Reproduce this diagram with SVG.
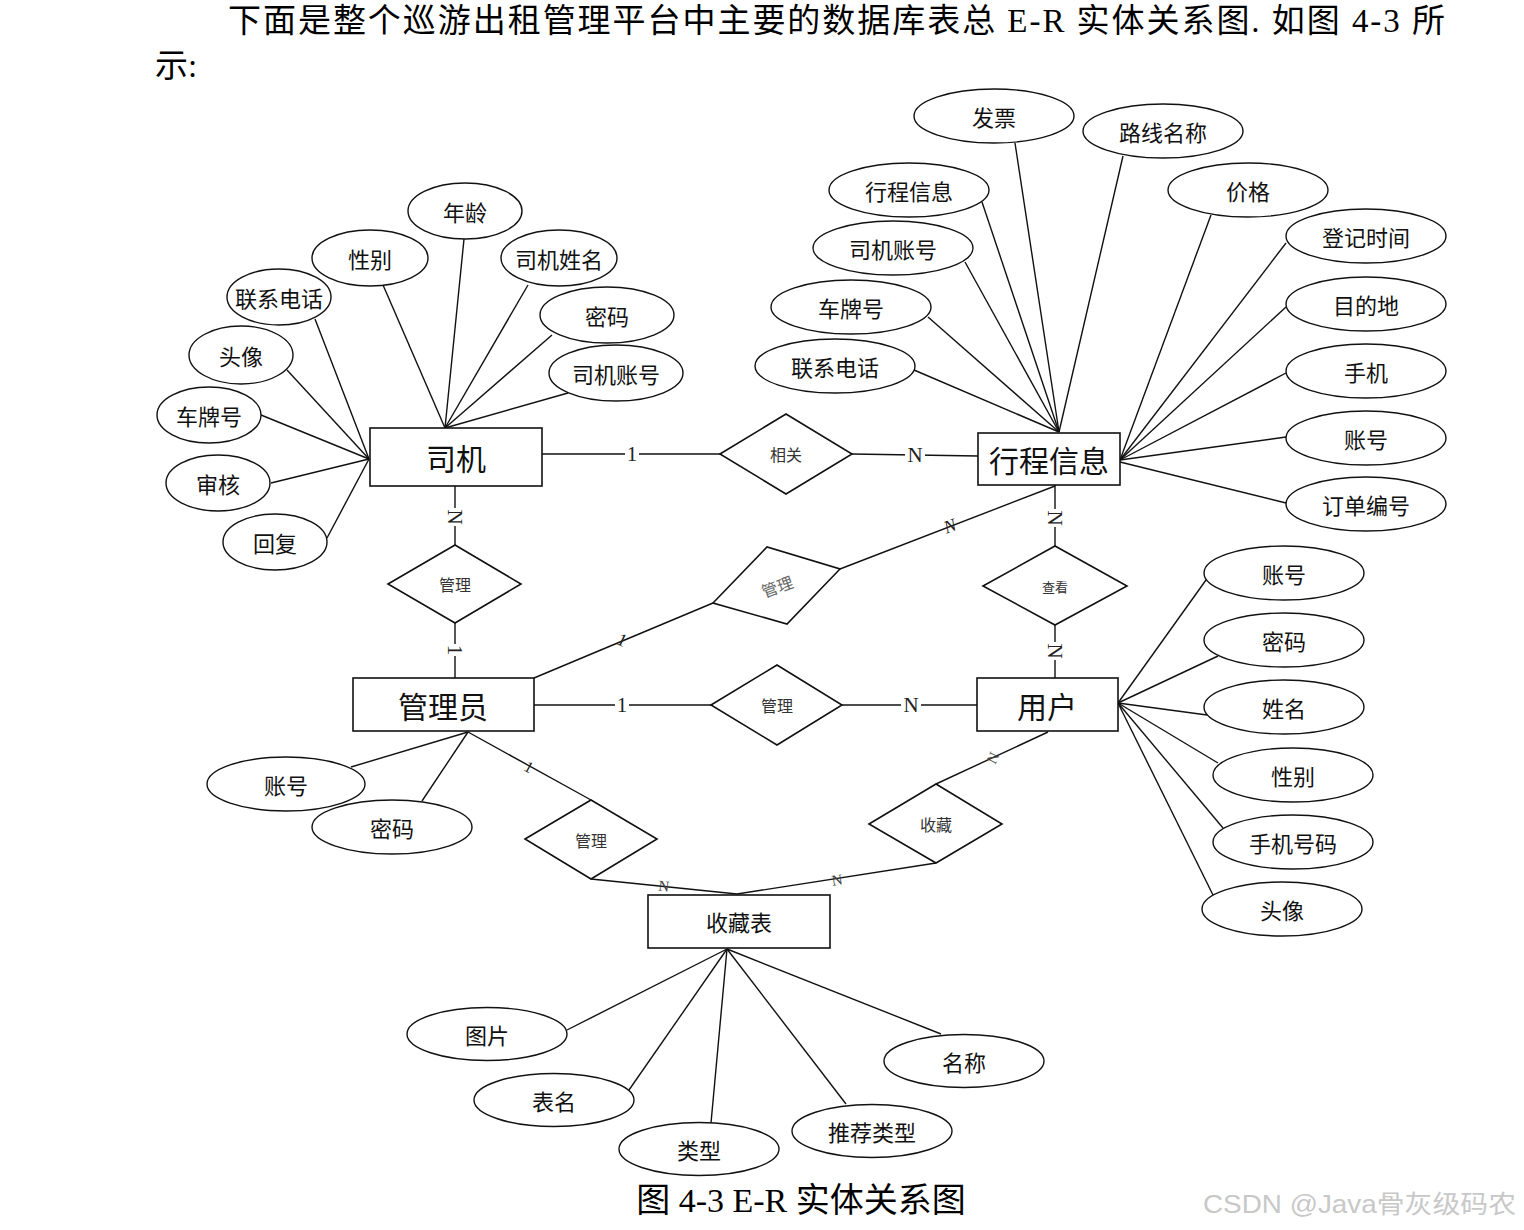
<svg xmlns="http://www.w3.org/2000/svg" width="1524" height="1230" viewBox="0 0 1524 1230">
<style>
.ent{fill:#fff;stroke:#111;stroke-width:1.6}
.attr{fill:#fff;stroke:#111;stroke-width:1.4}
.rel{fill:#fff;stroke:#111;stroke-width:1.6}
.ln{stroke:#111;stroke-width:1.4;fill:none}
.t{font-family:"Noto Sans CJK SC","Liberation Sans",sans-serif;text-anchor:middle;dominant-baseline:central;fill:#111}
.at{font-size:22px}
.et{font-size:30px}
.rt{font-size:16px;fill:#333}
.card{font-family:"Liberation Serif","Noto Sans CJK SC",serif;font-size:21px;text-anchor:middle;dominant-baseline:central;fill:#222}
.cs{font-size:15px;fill:#444}
.bg{fill:#fff}
.para{font-family:"Liberation Serif","Noto Sans CJK SC",serif;font-size:33px;fill:#000}
</style>

<text class="para" x="228" y="32" textLength="1217" lengthAdjust="spacing">下面是整个巡游出租管理平台中主要的数据库表总 E-R 实体关系图. 如图 4-3 所</text>
<text class="para" x="155" y="77">示:</text>

<g id="connectors">
  <!-- driver attributes -->
  <line class="ln" x1="464" y1="239" x2="445" y2="428"/>
  <line class="ln" x1="380" y1="278" x2="445" y2="428"/>
  <line class="ln" x1="528" y1="285" x2="445" y2="428"/>
  <line class="ln" x1="552" y1="335" x2="445" y2="428"/>
  <line class="ln" x1="568" y1="393" x2="445" y2="428"/>
  <line class="ln" x1="315" y1="319" x2="369" y2="459"/>
  <line class="ln" x1="287" y1="370" x2="369" y2="459"/>
  <line class="ln" x1="261" y1="415" x2="369" y2="459"/>
  <line class="ln" x1="271" y1="483" x2="369" y2="459"/>
  <line class="ln" x1="327" y1="538" x2="369" y2="459"/>
  <!-- trip attributes -->
  <line class="ln" x1="1015" y1="143" x2="1059" y2="432"/>
  <line class="ln" x1="1123" y1="156" x2="1059" y2="432"/>
  <line class="ln" x1="982" y1="202" x2="1059" y2="432"/>
  <line class="ln" x1="965" y1="262" x2="1059" y2="432"/>
  <line class="ln" x1="928" y1="317" x2="1059" y2="432"/>
  <line class="ln" x1="914" y1="370" x2="1059" y2="432"/>
  <line class="ln" x1="1211" y1="215" x2="1120" y2="460"/>
  <line class="ln" x1="1286" y1="243" x2="1120" y2="460"/>
  <line class="ln" x1="1286" y1="307" x2="1120" y2="460"/>
  <line class="ln" x1="1286" y1="373" x2="1120" y2="460"/>
  <line class="ln" x1="1286" y1="437" x2="1120" y2="460"/>
  <line class="ln" x1="1286" y1="503" x2="1120" y2="462"/>
  <!-- user attributes -->
  <line class="ln" x1="1206" y1="580" x2="1118" y2="703"/>
  <line class="ln" x1="1218" y1="656" x2="1118" y2="703"/>
  <line class="ln" x1="1207" y1="715" x2="1118" y2="703"/>
  <line class="ln" x1="1218" y1="763" x2="1118" y2="703"/>
  <line class="ln" x1="1223" y1="828" x2="1118" y2="703"/>
  <line class="ln" x1="1213" y1="895" x2="1118" y2="703"/>
  <!-- admin attributes -->
  <line class="ln" x1="351" y1="767" x2="468" y2="732"/>
  <line class="ln" x1="422" y1="801" x2="468" y2="732"/>
  <!-- favourites attributes -->
  <line class="ln" x1="567" y1="1030" x2="727" y2="949"/>
  <line class="ln" x1="629" y1="1090" x2="727" y2="949"/>
  <line class="ln" x1="711" y1="1123" x2="727" y2="949"/>
  <line class="ln" x1="846" y1="1104" x2="727" y2="949"/>
  <line class="ln" x1="941" y1="1034" x2="727" y2="949"/>
  <!-- relationships -->
  <line class="ln" x1="542" y1="454" x2="720" y2="454"/>
  <line class="ln" x1="852" y1="454" x2="978" y2="456"/>
  <line class="ln" x1="455" y1="486" x2="455" y2="545"/>
  <line class="ln" x1="455" y1="623" x2="455" y2="678"/>
  <line class="ln" x1="534" y1="678" x2="713" y2="603"/>
  <line class="ln" x1="840" y1="569" x2="1055" y2="486"/>
  <line class="ln" x1="1055" y1="485" x2="1055" y2="546"/>
  <line class="ln" x1="1055" y1="625" x2="1055" y2="678"/>
  <line class="ln" x1="534" y1="705" x2="711" y2="705"/>
  <line class="ln" x1="842" y1="705" x2="977" y2="705"/>
  <line class="ln" x1="468" y1="732" x2="591" y2="800"/>
  <line class="ln" x1="591" y1="879" x2="737" y2="894"/>
  <line class="ln" x1="1048" y1="732" x2="936" y2="784"/>
  <line class="ln" x1="936" y1="863" x2="737" y2="894"/>

  <!-- cardinality labels -->
  <rect class="bg" x="625" y="443" width="14" height="22"/>
  <text class="card" x="632" y="454">1</text>
  <rect class="bg" x="905" y="444" width="20" height="22"/>
  <text class="card" x="915" y="455">N</text>
  <rect class="bg" x="445" y="508" width="20" height="18"/>
  <text class="card" x="455" y="517" transform="rotate(90 455 517)">N</text>
  <rect class="bg" x="445" y="644" width="20" height="12"/>
  <text class="card" x="455" y="650" transform="rotate(90 455 650)">1</text>
  <rect class="bg" x="1045" y="509" width="20" height="18"/>
  <text class="card" x="1055" y="518" transform="rotate(90 1055 518)">N</text>
  <rect class="bg" x="1045" y="642" width="20" height="18"/>
  <text class="card" x="1055" y="651" transform="rotate(90 1055 651)">N</text>
  <rect class="bg" x="615" y="694" width="14" height="22"/>
  <text class="card" x="622" y="705">1</text>
  <rect class="bg" x="901" y="694" width="20" height="22"/>
  <text class="card" x="911" y="705">N</text>
  <text class="card" x="622" y="640" transform="rotate(25 622 640)" style="font-size:18px">1</text>
  <text class="card" x="950" y="526" transform="rotate(-21 950 526)" style="font-size:18px;font-style:italic">N</text>
  <text class="card" x="529" y="767" transform="rotate(29 529 767)" style="font-size:16px">1</text>
  <text class="card cs" x="664" y="886" transform="rotate(6 664 886)">N</text>
  <text class="card cs" x="837" y="880" transform="rotate(-9 837 880)">N</text>
  <text class="card cs" x="993" y="758" transform="rotate(-65 993 758)">N</text>
</g>

<!-- entities -->
<g id="driver"><rect class="ent" x="370" y="428" width="172" height="58"/><text class="t et" x="456" y="457">司机</text></g>
<g id="trip"><rect class="ent" x="978" y="433" width="142" height="52"/><text class="t et" x="1049" y="459">行程信息</text></g>
<g id="admin"><rect class="ent" x="353" y="678" width="181" height="53"/><text class="t et" x="443" y="705">管理员</text></g>
<g id="user"><rect class="ent" x="977" y="678" width="141" height="53"/><text class="t et" x="1047" y="705">用户</text></g>
<g id="favorites"><rect class="ent" x="648" y="895" width="182" height="53"/><text class="t" style="font-size:22px" x="739" y="921">收藏表</text></g>

<!-- relationships -->
<g id="rel-related"><polygon class="rel" points="720,454 786,414 852,454 786,494"/><text class="t rt" x="786" y="454">相关</text></g>
<g id="rel-driver-admin"><polygon class="rel" points="388,584 455,545 521,584 455,623"/><text class="t rt" x="455" y="584">管理</text></g>
<g id="rel-view"><polygon class="rel" points="983,586 1055,546 1127,586 1055,625"/><text class="t rt" style="font-size:13px" x="1055" y="586">查看</text></g>
<g id="rel-admin-user"><polygon class="rel" points="711,705 777,665 842,705 777,745"/><text class="t rt" x="777" y="705">管理</text></g>
<g id="rel-admin-trip"><polygon class="rel" points="713,603 767,547 840,569 787,624"/><text class="t rt" style="fill:#666" x="777" y="586" transform="rotate(-20 777 586)">管理</text></g>
<g id="rel-admin-fav"><polygon class="rel" points="525,839 591,800 657,839 591,879"/><text class="t rt" x="591" y="840">管理</text></g>
<g id="rel-fav"><polygon class="rel" points="869,824 936,784 1002,824 936,863"/><text class="t rt" x="936" y="824">收藏</text></g>

<!-- driver attributes -->
<g id="d-age"><ellipse class="attr" cx="465" cy="211" rx="57" ry="28"/><text class="t at" x="465" y="211">年龄</text></g>
<g id="d-gender"><ellipse class="attr" cx="370" cy="258" rx="58" ry="28"/><text class="t at" x="370" y="258">性别</text></g>
<g id="d-name"><ellipse class="attr" cx="559" cy="258" rx="58" ry="28"/><text class="t at" x="559" y="258">司机姓名</text></g>
<g id="d-phone"><ellipse class="attr" cx="279" cy="297" rx="52" ry="28"/><text class="t at" x="279" y="297">联系电话</text></g>
<g id="d-pwd"><ellipse class="attr" cx="607" cy="315" rx="67" ry="28"/><text class="t at" x="607" y="315">密码</text></g>
<g id="d-account"><ellipse class="attr" cx="616" cy="373" rx="67" ry="28"/><text class="t at" x="616" y="373">司机账号</text></g>
<g id="d-avatar"><ellipse class="attr" cx="241" cy="355" rx="52" ry="29"/><text class="t at" x="241" y="355">头像</text></g>
<g id="d-plate"><ellipse class="attr" cx="209" cy="415" rx="52" ry="28"/><text class="t at" x="209" y="415">车牌号</text></g>
<g id="d-review"><ellipse class="attr" cx="218" cy="483" rx="52" ry="28"/><text class="t at" x="218" y="483">审核</text></g>
<g id="d-reply"><ellipse class="attr" cx="275" cy="542" rx="52" ry="28"/><text class="t at" x="275" y="542">回复</text></g>

<!-- trip attributes -->
<g id="t-invoice"><ellipse class="attr" cx="994" cy="116" rx="80" ry="27"/><text class="t at" x="994" y="116">发票</text></g>
<g id="t-route"><ellipse class="attr" cx="1163" cy="131" rx="80" ry="27"/><text class="t at" x="1163" y="131">路线名称</text></g>
<g id="t-info"><ellipse class="attr" cx="909" cy="190" rx="80" ry="27"/><text class="t at" x="909" y="190">行程信息</text></g>
<g id="t-price"><ellipse class="attr" cx="1248" cy="190" rx="80" ry="27"/><text class="t at" x="1248" y="190">价格</text></g>
<g id="t-daccount"><ellipse class="attr" cx="893" cy="248" rx="80" ry="27"/><text class="t at" x="893" y="248">司机账号</text></g>
<g id="t-time"><ellipse class="attr" cx="1366" cy="236" rx="80" ry="27"/><text class="t at" x="1366" y="236">登记时间</text></g>
<g id="t-plate"><ellipse class="attr" cx="851" cy="307" rx="80" ry="27"/><text class="t at" x="851" y="307">车牌号</text></g>
<g id="t-dest"><ellipse class="attr" cx="1366" cy="304" rx="80" ry="27"/><text class="t at" x="1366" y="304">目的地</text></g>
<g id="t-phone"><ellipse class="attr" cx="835" cy="366" rx="80" ry="27"/><text class="t at" x="835" y="366">联系电话</text></g>
<g id="t-mobile"><ellipse class="attr" cx="1366" cy="371" rx="80" ry="27"/><text class="t at" x="1366" y="371">手机</text></g>
<g id="t-account"><ellipse class="attr" cx="1366" cy="438" rx="80" ry="27"/><text class="t at" x="1366" y="438">账号</text></g>
<g id="t-order"><ellipse class="attr" cx="1366" cy="504" rx="80" ry="27"/><text class="t at" x="1366" y="504">订单编号</text></g>

<!-- user attributes -->
<g id="u-account"><ellipse class="attr" cx="1284" cy="573" rx="80" ry="27"/><text class="t at" x="1284" y="573">账号</text></g>
<g id="u-pwd"><ellipse class="attr" cx="1284" cy="640" rx="80" ry="27"/><text class="t at" x="1284" y="640">密码</text></g>
<g id="u-name"><ellipse class="attr" cx="1284" cy="707" rx="80" ry="27"/><text class="t at" x="1284" y="707">姓名</text></g>
<g id="u-gender"><ellipse class="attr" cx="1293" cy="775" rx="80" ry="27"/><text class="t at" x="1293" y="775">性别</text></g>
<g id="u-mobile"><ellipse class="attr" cx="1293" cy="842" rx="80" ry="27"/><text class="t at" x="1293" y="842">手机号码</text></g>
<g id="u-avatar"><ellipse class="attr" cx="1282" cy="909" rx="80" ry="27"/><text class="t at" x="1282" y="909">头像</text></g>

<!-- admin attributes -->
<g id="a-account"><ellipse class="attr" cx="286" cy="784" rx="79" ry="27"/><text class="t at" x="286" y="784">账号</text></g>
<g id="a-pwd"><ellipse class="attr" cx="392" cy="827" rx="80" ry="27"/><text class="t at" x="392" y="827">密码</text></g>

<!-- favourites attributes -->
<g id="f-pic"><ellipse class="attr" cx="487" cy="1034" rx="80" ry="26.5"/><text class="t at" x="487" y="1034">图片</text></g>
<g id="f-table"><ellipse class="attr" cx="554" cy="1100" rx="80" ry="26.5"/><text class="t at" x="554" y="1100">表名</text></g>
<g id="f-type"><ellipse class="attr" cx="699" cy="1149" rx="80" ry="26.5"/><text class="t at" x="699" y="1149">类型</text></g>
<g id="f-rtype"><ellipse class="attr" cx="872" cy="1131" rx="80" ry="26.5"/><text class="t at" x="872" y="1131">推荐类型</text></g>
<g id="f-name"><ellipse class="attr" cx="964" cy="1061" rx="80" ry="26.5"/><text class="t at" x="964" y="1061">名称</text></g>

<text class="para" x="801" y="1212" text-anchor="middle" style="font-size:34px">图 4-3 E-R 实体关系图</text>
<text x="1203" y="1213" textLength="313" lengthAdjust="spacingAndGlyphs" style="font-family:'Liberation Sans','Noto Sans CJK SC',sans-serif;font-size:25px;fill:#c8c8c8">CSDN @Java骨灰级码农</text>
</svg>
